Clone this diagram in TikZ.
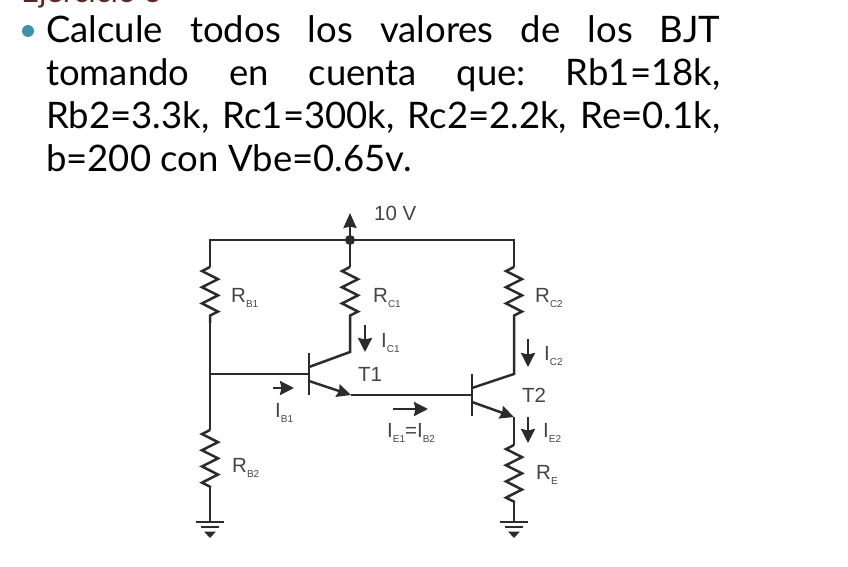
\documentclass[tikz,border=0pt]{standalone}
\usepackage{fontspec}
\setmainfont{Lato}
\newfontfamily\labelfont{Liberation Sans}
\usetikzlibrary{arrows.meta,decorations.pathmorphing,positioning}
\newcommand{\sublbl}[2]{#1\raisebox{-5pt}{\fontsize{10}{10}\selectfont #2}}
\definecolor{bullteal}{HTML}{3E93AC}
\definecolor{labelgrey}{HTML}{444444}
\definecolor{titlered}{HTML}{5A2A20}
\definecolor{wiregrey}{HTML}{2B2B2B}
\tikzset
{
	wire/.style = {draw=wiregrey, line width=2.5pt},
	resistor/.style = {wire, decorate, decoration={zigzag, segment length=16.2pt, amplitude=8pt, mirror}},
	emitterline/.style = {wire, -{Stealth[length=14pt,width=13pt,inset=1.5pt]}},
	currentarrow/.style = {draw=wiregrey, line width=2.4pt, -{Stealth[length=14pt,width=14pt,inset=1.5pt]}},
	bar/.style = {draw=wiregrey, line width=2.6pt},
	cirlabel/.style = {text=labelgrey, font=\labelfont\fontsize{20.5}{22}\selectfont, inner sep=0pt, anchor=base west},
	junction/.style = {circle, fill=wiregrey, minimum size=10pt, inner sep=0pt},
	gndbar/.style = {draw=wiregrey, line width=2.2pt}
}
\begin{document}
\begin{tikzpicture}[x=1pt, y=-1pt]
	\useasboundingbox (0,0) rectangle (848,567);
	\node (title) [anchor=base west, inner sep=0pt, text=titlered, font=\fontsize{31}{33}\selectfont] at (21,3) {Ejercicio 6};
	\node (bullet) [circle, fill=bullteal, minimum size=12pt, inner sep=0pt] at (28,31) {};
	\node (statement) [anchor=north west, inner sep=0pt, text width=674pt, align=justify, font=\fontsize{36.5}{43}\selectfont] at (46,15) {\frenchspacing Calcule todos los valores de los BJT\linebreak tomando en cuenta que: Rb1=18k,\linebreak Rb2=3.3k, Rc1=300k, Rc2=2.2k, Re=0.1k,\linebreak b=200 con Vbe=0.65v.};

	\coordinate (tl) at (210,240);
	\coordinate (tm) at (350,240);
	\coordinate (tr) at (514,240);
	\coordinate (vcc) at (350,213);
	\coordinate (rb1t) at (210,267);
	\coordinate (rb1b) at (210,323);
	\coordinate (bjoin) at (210,374);
	\coordinate (rb2t) at (210,430);
	\coordinate (rb2b) at (210,487);
	\coordinate (gnd1) at (210,522);
	\coordinate (rc1t) at (350,267);
	\coordinate (rc1b) at (350,323);
	\coordinate (c1) at (350,352);
	\coordinate (rc2t) at (514,267);
	\coordinate (rc2b) at (514,323);
	\coordinate (c2) at (514,374);
	\coordinate (t1base) at (309,374);
	\coordinate (t1top) at (309,353);
	\coordinate (t1bot) at (309,395);
	\coordinate (t1c) at (309,367);
	\coordinate (t1e) at (309,381);
	\coordinate (e1) at (351,395);
	\coordinate (t2base) at (472,395);
	\coordinate (t2top) at (472,374);
	\coordinate (t2bot) at (472,416);
	\coordinate (t2c) at (472,388);
	\coordinate (t2e) at (472,402);
	\coordinate (e2) at (514,417);
	\coordinate (ret) at (514,445);
	\coordinate (reb) at (514,502);
	\coordinate (gnd2) at (514,522);

	\draw [wire] (rb1t) -- (tl) -- (tr) -- (rc2t);
	\draw [wire] (tm) -- (rc1t);
	\draw [wire, -{Stealth[length=15pt,width=13pt,inset=1.5pt]}] (tm) -- (vcc);
	\node (dot) [junction] at (tm) {};
	\draw [resistor] (rb1t) -- (rb1b);
	\draw [resistor] (rb2t) -- (rb2b);
	\draw [resistor] (rc1t) -- (rc1b);
	\draw [resistor] (rc2t) -- (rc2b);
	\draw [resistor] (ret) -- (reb);
	\draw [wire] (rb1b) -- (rb2t);
	\draw [wire] (rb2b) -- (gnd1);
	\draw [wire] (bjoin) -- (t1base);
	\draw [wire] (rc1b) -- (c1) -- (t1c);
	\draw [bar] (t1top) -- (t1bot);
	\draw [emitterline] (t1e) -- (e1);
	\draw [wire] (e1) -- (t2base);
	\draw [bar] (t2top) -- (t2bot);
	\draw [wire] (rc2b) -- (c2) -- (t2c);
	\draw [emitterline] (t2e) -- (e2);
	\draw [wire] (e2) -- (ret);
	\draw [wire] (reb) -- (gnd2);

	\foreach \g in {gnd1,gnd2}
	{
		\draw [gndbar] ([xshift=-14pt]\g) -- ([xshift=14pt]\g);
		\draw [gndbar] ([xshift=-9pt,yshift=-5pt]\g) -- ([xshift=9pt,yshift=-5pt]\g);
		\fill [wiregrey] ([xshift=-6pt,yshift=-9.5pt]\g) -- ([xshift=6pt,yshift=-9.5pt]\g) -- ([yshift=-16pt]\g) -- cycle;
	}

	\coordinate (ic1s) at (365,325);
	\coordinate (ic1e) at (365,352);
	\coordinate (ic2s) at (528,339);
	\coordinate (ic2e) at (528,367);
	\coordinate (ie2s) at (528,417);
	\coordinate (ie2e) at (528,443);
	\coordinate (ib1s) at (273,388);
	\coordinate (ib1e) at (294,388);
	\coordinate (ie1s) at (393,409);
	\coordinate (ie1e) at (428,409);
	\draw [currentarrow] (ic1s) -- (ic1e);
	\draw [currentarrow] (ic2s) -- (ic2e);
	\draw [currentarrow] (ie2s) -- (ie2e);
	\draw [currentarrow] (ib1s) -- (ib1e);
	\draw [currentarrow] (ie1s) -- (ie1e);

	\node (vlabel) [cirlabel] at (374,220) {10 V};
	\node (rb1) [cirlabel] at (231,302) {\sublbl{R}{B1}};
	\node (rb2) [cirlabel] at (232,472) {\sublbl{R}{B2}};
	\node (rc1) [cirlabel] at (373,302) {\sublbl{R}{C1}};
	\node (rc2) [cirlabel] at (535,302) {\sublbl{R}{C2}};
	\node (re) [cirlabel] at (536,479) {\sublbl{R}{E}};
	\node (t1) [cirlabel] at (358,381) {T1};
	\node (t2) [cirlabel] at (522,402) {T2};
	\node (ic1) [cirlabel] at (381,347) {\sublbl{I}{C1}};
	\node (ic2) [cirlabel] at (544,360) {\sublbl{I}{C2}};
	\node (ie2) [cirlabel] at (543,437) {\sublbl{I}{E2}};
	\node (ib1) [cirlabel] at (275,417) {\sublbl{I}{B1}};
	\node (ie1b2) [cirlabel] at (387,437) {\sublbl{I}{E1}=\sublbl{I}{B2}};
\end{tikzpicture}
\end{document}
